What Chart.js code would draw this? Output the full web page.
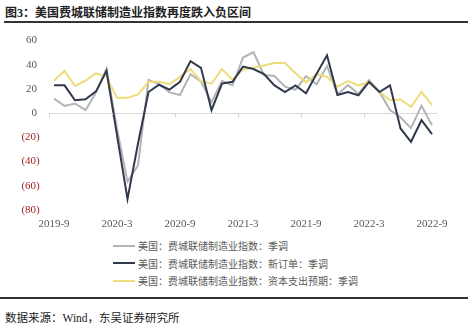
<!DOCTYPE html>
<html>
<head>
<meta charset="utf-8">
<script src="https://cdn.jsdelivr.net/npm/chart.js@4.4.0/dist/chart.umd.min.js"></script>
<style>
  html, body { margin: 0; padding: 0; background: #fff; }
  body { width: 474px; height: 327px; position: relative; overflow: hidden;
         font-family: 'Liberation Serif', 'Noto Sans CJK SC', serif; }
  #title { position: absolute; left: 5px; top: 3px; font-size: 12px; font-weight: bold;
           color: #222; font-family: 'Liberation Serif', 'Noto Sans CJK SC', serif; white-space: nowrap; }
  #rule1 { position: absolute; left: 4px; top: 21px; width: 464px; height: 2px; background: #333; }
  #rule2 { position: absolute; left: 0px; top: 297px; width: 468px; height: 2px; background: #333; }
  #source { position: absolute; left: 5px; top: 309px; font-size: 11.5px; color: #222; white-space: nowrap; }
  #wrap { position: absolute; left: 0; top: 25px; width: 474px; height: 210px; }
  #legend { position: absolute; left: 113px; top: 237px; font-size: 10px; color: #5a5a5a;
            font-family: 'Noto Sans CJK SC', sans-serif; }
  .item { height: 17.5px; display: flex; align-items: center; white-space: nowrap; }
  .swatch { width: 22px; height: 2px; margin-right: 3px; }
</style>
</head>
<body>
<div id="title">图3：美国费城联储制造业指数再度跌入负区间</div>
<div id="rule1"></div>
<div id="wrap"><canvas id="chart"></canvas></div>
<div id="legend"></div>
<div id="rule2"></div>
<div id="source">数据来源：Wind，东吴证券研究所</div>
<script>
// months 2019-9 .. 2022-9
const months = [];
for (let y = 2019, m = 9; y < 2022 || (y === 2022 && m <= 9); ) {
  months.push(y + '-' + m);
  m++; if (m > 12) { m = 1; y++; }
}

const seriesNames = [
  '美国：费城联储制造业指数：季调',
  '美国：费城联储制造业指数：新订单：季调',
  '美国：费城联储制造业指数：资本支出预期：季调'
];
const seriesColors = ['#B4B4B4', '#2F3A4C', '#EEDC7A'];

const headline = [12, 6, 8, 2.5, 17, 36.7, -12.7, -56.6, -43.1, 27.5, 24.1, 17.2, 15,
  32.3, 26.3, 9, 26.5, 23.1, 46, 50.5, 31.5, 30.7, 21.9, 19.4, 30.7, 23.8, 39, 15.4,
  23.2, 16, 27.4, 17.6, 2.6, -3.3, -12.3, 6.2, -9.9];
const newOrders = [23, 23, 10.7, 11.5, 18, 35, -18, -71, -25, 17.5, 23.5, 19.5, 26,
  43, 37.5, 2.5, 24.5, 26, 38.5, 36.5, 32.4, 23, 17.5, 23, 16.5, 32.4, 47.8, 15,
  17.5, 14.8, 25.8, 17.5, 23, -12.6, -23.6, -5.8, -17.3];
const capexPlans = [27, 35, 22.5, 27, 33, 30, 12.7, 12.7, 15.5, 26, 26, 24, 30,
  36.5, 26.5, 24.4, 36.5, 27.7, 36, 37.5, 39.5, 41.5, 41.5, 33, 25.5, 32.4, 30, 22,
  26.6, 23, 25.8, 17.5, 10.7, 11.3, 5.2, 17.5, 6.6];

const yMin = -80, yMax = 60, yStep = 20;

// html legend
const legendEl = document.getElementById('legend');
seriesNames.forEach((n, i) => {
  const d = document.createElement('div');
  d.className = 'item';
  d.innerHTML = `<span class="swatch" style="background:${seriesColors[i]}"></span><span>${n}</span>`;
  legendEl.appendChild(d);
});

// little tick marks on the zero line, every 6 months
const zeroTicks = {
  id: 'zeroTicks',
  afterDatasetsDraw(chart) {
    const { ctx, scales: { x, y } } = chart;
    const y0 = y.getPixelForValue(0);
    const half = (x.getPixelForValue(1) - x.getPixelForValue(0)) / 2;
    ctx.save();
    ctx.strokeStyle = '#D0D0D0';
    ctx.lineWidth = 1;
    for (let i = 0; i <= months.length; i += 6) {
      const px = Math.round(x.getPixelForValue(i) - half) + 0.5;
      ctx.beginPath(); ctx.moveTo(px, y0); ctx.lineTo(px, y0 + 4); ctx.stroke();
    }
    ctx.restore();
  }
};

const serif = "'Liberation Serif', 'Times New Roman', serif";

new Chart(document.getElementById('chart'), {
  type: 'line',
  data: {
    labels: months,
    datasets: [
      { label: seriesNames[0], data: headline, borderColor: seriesColors[0], order: 2 },
      { label: seriesNames[1], data: newOrders, borderColor: seriesColors[1], order: 0 },
      { label: seriesNames[2], data: capexPlans, borderColor: seriesColors[2], order: 1 }
    ].map(d => Object.assign(d, { borderWidth: 2, pointRadius: 0, tension: 0, fill: false }))
  },
  options: {
    responsive: true,
    maintainAspectRatio: false,
    animation: false,
    layout: { padding: { top: 5, right: 36.75, left: 0, bottom: 0 } },
    plugins: { legend: { display: false }, tooltip: { enabled: false } },
    scales: {
      x: {
        offset: true,
        grid: { display: false, drawTicks: false },
        border: { display: false },
        afterFit: s => { s.height = 25; },
        ticks: {
          autoSkip: false, maxRotation: 0, padding: 8,
          color: '#595959', font: { family: serif, size: 11 },
          callback: (v, i) => (i % 6 === 0 ? months[i] : '')
        }
      },
      y: {
        min: yMin, max: yMax,
        afterFit: s => { s.width = 48.75; },
        grid: {
          drawTicks: false,
          color: c => (c.tick && c.tick.value === 0 ? '#D9D9D9' : 'rgba(0,0,0,0)'),
          lineWidth: 1
        },
        border: { display: false },
        ticks: {
          stepSize: yStep, padding: 9,
          font: { family: serif, size: 11 },
          color: c => (c.tick.value < 0 ? '#9A1C1C' : '#595959'),
          callback: v => (v < 0 ? '(' + (-v) + ')' : v + '\u00a0')
        }
      }
    }
  },
  plugins: [zeroTicks]
});
</script>
</body>
</html>
